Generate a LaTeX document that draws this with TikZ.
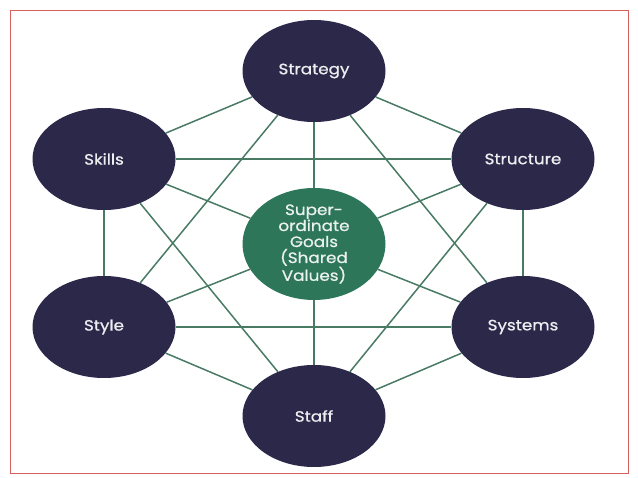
\documentclass[tikz,border=0pt]{standalone}
\usepackage{fontspec}
\setmainfont{Poppins}[FakeStretch=1.12, FakeBold=0.8]
\usepackage{xcolor}
\usepackage{tikz}
\usetikzlibrary{shapes.geometric,backgrounds}
\definecolor{navy}{RGB}{44,40,74}
\definecolor{sage}{RGB}{46,118,90}
\definecolor{link}{RGB}{72,122,100}
\definecolor{frame}{RGB}{214,96,96}
\tikzset{
  sbox/.style={ellipse, fill=navy, text=white!92!navy, minimum width=143pt, minimum height=102pt, inner sep=0pt, font=\fontsize{15}{16}\selectfont},
  goal/.style={sbox, fill=sage, align=center, text=white!90!sage},
  link/.style={draw=link, line width=1.5pt}
}
\begin{document}
\begin{tikzpicture}[x=1pt, y=-1pt]
    \useasboundingbox (0,0) rectangle (638,478);
    \draw[frame, line width=0.8pt] (10,10) rectangle (628,473);
    \node[sbox] (strategy) at (314, 71) {Strategy};
    \node[sbox] (skills) at (104, 159) {Skills};
    \node[sbox] (structure) at (523, 159) {Structure};
    \node[sbox] (style) at (104, 327) {Style};
    \node[sbox] (systems) at (523, 327) {Systems};
    \node[sbox] (staff) at (314, 416) {Staff};
    \node[goal] (goals) at (314, 244) {Super-\\ordinate\\Goals\\(Shared\\Values)};
    \begin{scope}[on background layer]
    \foreach \a/\b in {strategy/skills, strategy/structure, strategy/style, strategy/systems,
      skills/structure, skills/style, skills/staff, structure/systems, structure/staff,
      style/systems, style/staff, systems/staff}
      \draw[link] (\a) -- (\b);
    \foreach \a in {strategy, skills, structure, style, systems, staff}
      \draw[link] (\a) -- (goals);
    \end{scope}
  \end{tikzpicture}
\end{document}
